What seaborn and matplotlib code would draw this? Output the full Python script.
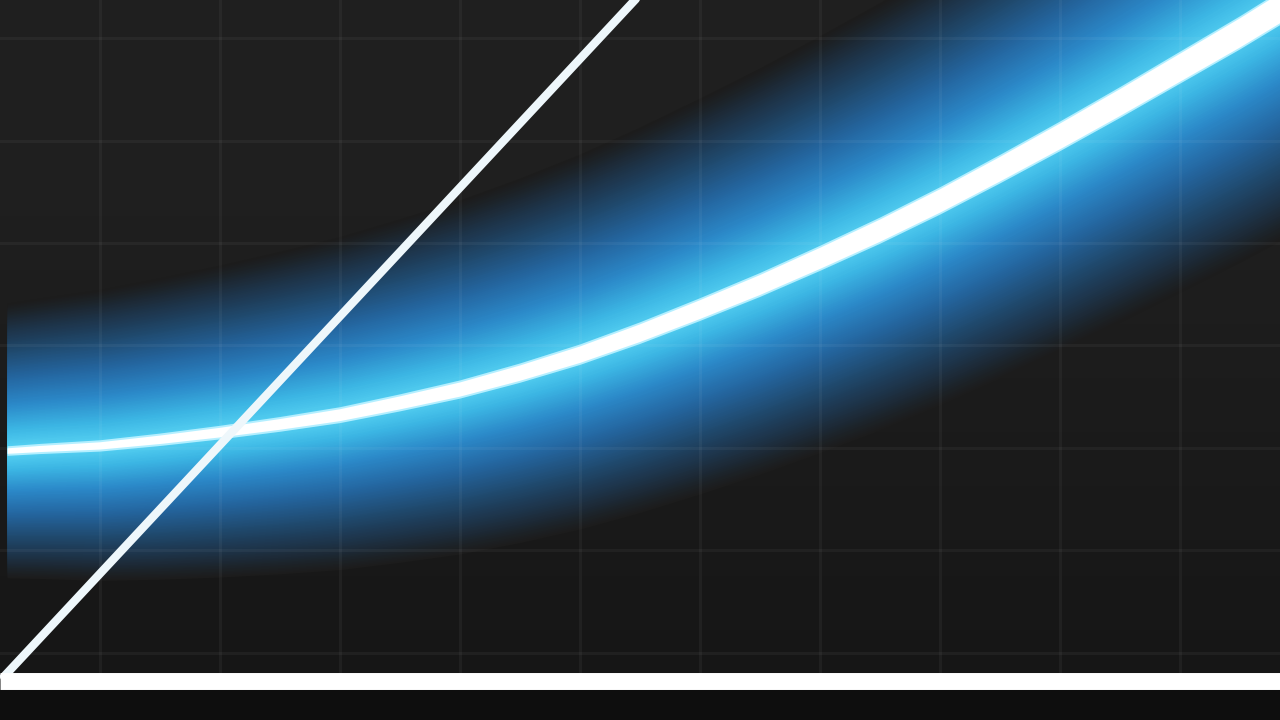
"""
Glowing exponential curve vs. straight line, dark grid background
"""

import numpy as np
import matplotlib.pyplot as plt
import seaborn as sns
from matplotlib.colors import LinearSegmentedColormap, to_rgb

# curve / line values, in grid units (1 unit = one grid cell)
curve_x = [0.23, 0.5, 1, 1.5, 2, 2.5, 3, 3.5, 4, 4.5, 5, 5.5, 6,
           6.5, 7, 7.5, 8, 8.5, 9, 9.5, 10, 10.5, 11]
curve_y = [2.97, 2.99, 3.02, 3.08, 3.15, 3.23, 3.32, 3.44, 3.57, 3.73, 3.91, 4.12, 4.35,
           4.59, 4.85, 5.12, 5.41, 5.72, 6.04, 6.37, 6.71, 7.05, 7.41]
line_x = [0.2, 5.6]
line_y = [0.77, 7.55]
baseline_y = 0.722

grid_x = list(range(1, 11))
grid_y = list(range(1, 8))

sns.set_theme(style='dark', rc={
    'axes.facecolor': '#1e1e1e',
    'figure.facecolor': '#111111',
})

fig = plt.figure(figsize=(12.8, 7.2), dpi=100)
ax = fig.add_axes([0, 0, 1, 1])
ax.set_xlim(0.1667, 10.833)
ax.set_ylim(0.346, 7.371)

# px -> data scale (vertical)
py = 102.5
x = np.array(curve_x)
y = np.array(curve_y)

# background: slightly lighter at the top
top_c = np.array(to_rgb('#1f1f1f'))
bot_c = np.array(to_rgb('#151515'))
edges = np.linspace(0.346, 7.371, 41)
for i in range(40):
    t = min(1.0, (edges[i] - 0.346) / 5.0)
    ax.axhspan(edges[i], edges[i + 1], color=bot_c * (1 - t) + top_c * t, lw=0, zorder=0)

# glow: opaque layers painted from the outside in
glow = LinearSegmentedColormap.from_list('glow', [
    (0.00, '#5ad6f5'),
    (0.15, '#3cb6e4'),
    (0.32, '#2b88c8'),
    (0.50, '#2466a0'),
    (0.70, '#1f4668'),
    (0.85, '#1d3042'),
    (0.94, '#1c2329'),
    (1.00, '#1c1c1c'),
])
h_up = (145 + 11 * x) / py
h_dn = (125 + 10 * x) / py
N = 100
for k in range(N):
    u = 1 - k / N
    ax.fill_between(x, y - h_dn * u, y + h_up * u, color=glow(u), lw=0, zorder=2)

# faint grid, also seen through the glow
for gx in grid_x:
    ax.axvline(gx, color='white', alpha=0.045, lw=2.2, zorder=2.5)
for gy in grid_y:
    ax.axhline(gy, color='white', alpha=0.045, lw=2.2, zorder=2.5)

# bright core, thickening to the right
core = (5 + 2.3 * x) / py
ax.fill_between(x, y - core / 2 - 2 / py, y + core / 2 + 2 / py,
                color='#b4efff', lw=0, zorder=3)
ax.fill_between(x, y - core / 2, y + core / 2, color='white', lw=0, zorder=4)

# straight line
sns.lineplot(x=line_x, y=line_y, color='#eef7fb', lw=6, ax=ax, zorder=5)

# baseline and dark strip under it
ax.axhspan(0.346, baseline_y, color='#0e0e0e', lw=0, zorder=6)
ax.axhline(baseline_y, color='white', lw=12.2, solid_capstyle='butt', zorder=7)

ax.set_xticks(grid_x)
ax.set_yticks(grid_y)
ax.tick_params(length=0, labelbottom=False, labelleft=False)
ax.grid(False)
for s in ax.spines.values():
    s.set_visible(False)

fig.savefig('out.png', dpi=100)
plt.close()
